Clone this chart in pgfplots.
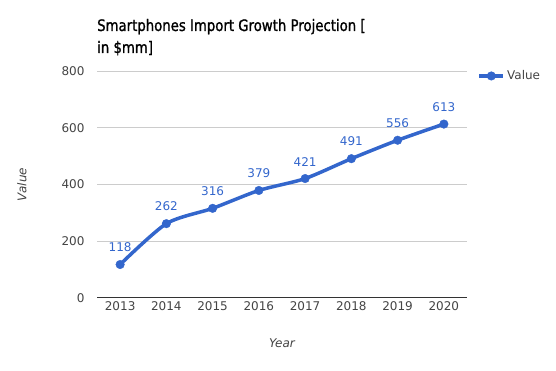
\documentclass[border=0pt]{standalone}
\usepackage{pgfplots}
\pgfplotsset{compat=1.18}
\usepackage{fontspec}
\setmainfont{DejaVu Sans}
\newfontfamily\titlefont[FakeStretch=0.84, FakeBold=1.2]{DejaVu Sans}
\definecolor{lineblue}{HTML}{3366CC}
\definecolor{ticktxt}{HTML}{444444}
\definecolor{gridc}{HTML}{CCCCCC}
\begin{document}
\begin{tikzpicture}[x=1pt,y=1pt]
\useasboundingbox (0,0) rectangle (556,371);
\node[anchor=base west, inner sep=0pt, font=\titlefont\fontsize{15.8}{18}\selectfont] at (97,340) {Smartphones Import Growth Projection [};
\node[anchor=base west, inner sep=0pt, font=\titlefont\fontsize{15.8}{18}\selectfont] at (97,318) {in \$mm]};
\begin{axis}[
  at={(97pt,73pt)}, anchor=origin,
  scale only axis, width=370pt, height=227pt,
  xmin=2012.5, xmax=2020.5, ymin=0, ymax=800,
  xtick={2013,...,2020}, ytick={0,200,...,800},
  xticklabel style={/pgf/number format/1000 sep={}},
  yticklabel style={xshift=-9pt},
  /pgf/number format/assume math mode=true,
  ticklabel style={font=\fontsize{12}{14}\selectfont, text=ticktxt},
  ymajorgrids, grid style={gridc, line width=1pt},
  axis x line*=bottom, axis y line*=left,
  x axis line style={black!80, line width=1pt, -},
  y axis line style={draw=none},
  major tick length=0pt,
  xlabel={\itshape Year}, ylabel={\itshape Value},
  xlabel style={font=\fontsize{12}{14}\selectfont, text=ticktxt, at={(0.5,-0.2)}, anchor=center},
  ylabel style={font=\fontsize{12}{14}\selectfont, text=ticktxt, at={(-0.203,0.5)}, anchor=center},
  legend style={at={(1.02,1.02)}, anchor=north west, draw=none, fill=none, font=\fontsize{12}{14}\selectfont, text=ticktxt},
  legend cell align=left,
  legend image code/.code={
    \draw[#1, mark=none] (0pt,0pt) -- (24pt,0pt);
    \draw[#1, only marks] plot coordinates {(12pt,0pt)};
  },
  nodes near coords,
  every node near coord/.append style={font=\fontsize{12}{14}\selectfont, text=lineblue, yshift=9pt},
  clip=false,
]
\addplot[lineblue, line width=3.5pt, smooth, tension=0.45, mark=*, mark size=4.3pt, mark options={solid, line width=0.4pt, draw=lineblue, fill=lineblue}] coordinates {
(2013,118) (2014,262) (2015,316) (2016,379) (2017,421) (2018,491) (2019,556) (2020,613)
};
\addlegendentry{Value}
\end{axis}
\end{tikzpicture}
\end{document}
